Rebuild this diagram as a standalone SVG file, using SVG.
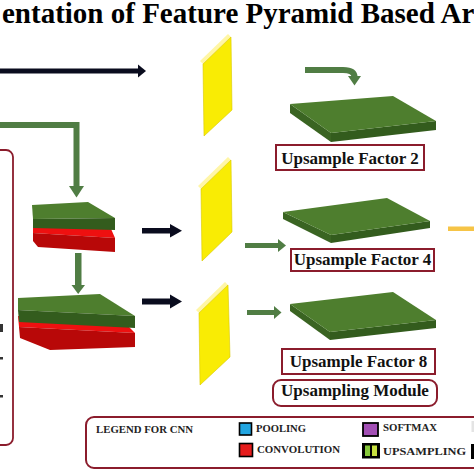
<svg xmlns="http://www.w3.org/2000/svg" width="474" height="474" viewBox="0 0 474 474">
<style>
  .title{font-family:"Liberation Serif","Times New Roman",serif;font-weight:bold;font-size:29px;fill:#000}
  .lbl{font-family:"Liberation Serif","Times New Roman",serif;font-weight:bold;font-size:17px;fill:#111}
  .lg{font-family:"Liberation Serif","Times New Roman",serif;font-weight:bold;font-size:11px;fill:#222}
  .box{fill:#fff;stroke:#8b1c2c;stroke-width:2}
  .frame{fill:none;stroke:#8b1c2c;stroke-width:1.8}
  .ytop{fill:#fff6a6}
  .yfront{fill:#f9ec04;stroke:#d8c800;stroke-width:0.6}
  .gtop{fill:#4e7e2e}
  .gside{fill:#3a6422}
  .gfront{fill:#335c1d}
  .rtop{fill:#ee1010}
  .rfront{fill:#b80808}
  .blk{fill:#0a0c1e}
  .grn{fill:#507d44}
  .grs{fill:none;stroke:#507d44;stroke-width:6}
</style>

<text class="title" x="2" y="23">entation of Feature Pyramid Based Ar</text>

<g id="left-frame">
  <rect class="frame" x="-12" y="150" width="25" height="295" rx="7"/>
  <rect x="0" y="324" width="3" height="8" fill="#333"/>
  <rect x="0" y="357" width="3" height="2.5" fill="#333"/>
  <rect x="0" y="395" width="3" height="2.5" fill="#333"/>
</g>

<g id="cnn-block-1">
  <polygon class="rtop" points="33,221 108,222 115,238 33,233"/>
  <polygon class="rfront" points="33,233 115,238 115,252 38,247 33,241"/>
  <polygon class="gtop" points="32,205 88,202 115,218 33,219"/>
  <polygon class="gfront" points="33,219 115,218 115,230 33,228"/>
</g>

<g id="cnn-block-2">
  <polygon class="rtop" points="18,316 120,318 135,333 19,327"/>
  <polygon class="rfront" points="19,327 135,333 135,347 50,350 20,338"/>
  <polygon class="gtop" points="18,298 100,294 135,316 18,310"/>
  <polygon class="gfront" points="18,310 135,316 135,328 19,322"/>
</g>

<g id="feature-1">
  <polygon class="ytop" points="200,61 228,34 231,37 203,64"/>
  <polygon class="yfront" points="203,64 231,37 232,110 204,136"/>
</g>
<g id="feature-2">
  <polygon class="ytop" points="198,186 228,157 231,160 201,189"/>
  <polygon class="yfront" points="201,189 231,160 232,232 202,261"/>
</g>
<g id="feature-3">
  <polygon class="ytop" points="196,310 225,282 228,285 199,313"/>
  <polygon class="yfront" points="199,313 228,285 230,357 200,385"/>
</g>

<g id="upsample-2">
  <polygon class="gside" points="290,104 331,133 331,142 290,113"/>
  <polygon class="gfront" points="331,133 436,121 436,130 331,142"/>
  <polygon class="gtop" points="290,104 393,96 436,121 331,133"/>
  <rect class="box" x="276" y="145" width="148" height="25"/>
  <text class="lbl" x="350" y="164" text-anchor="middle">Upsample Factor 2</text>
</g>

<g id="upsample-4">
  <polygon class="gside" points="283,212 331,235 331,243 283,219"/>
  <polygon class="gfront" points="331,235 430,221 430,228 331,243"/>
  <polygon class="gtop" points="283,212 387,198 430,221 331,235"/>
  <rect class="box" x="291" y="249" width="143" height="22"/>
  <text class="lbl" x="362.5" y="265" text-anchor="middle">Upsample Factor 4</text>
</g>

<g id="upsample-8">
  <polygon class="gside" points="290,304 330,332 330,340 290,311"/>
  <polygon class="gfront" points="330,332 436,320 436,328 330,340"/>
  <polygon class="gtop" points="290,304 393,292 436,320 330,332"/>
  <rect class="box" x="282" y="349" width="153" height="25"/>
  <text class="lbl" x="358.5" y="367" text-anchor="middle">Upsample Factor 8</text>
</g>

<g id="upsampling-module">
  <rect class="box" x="273" y="380" width="164" height="26" rx="8"/>
  <text class="lbl" x="355" y="396" text-anchor="middle">Upsampling Module</text>
</g>

<g id="output-line">
  <rect x="448" y="226.5" width="26" height="4.5" fill="#f6c446"/>
</g>

<g id="connectors">
  <rect class="blk" x="0" y="68.5" width="139" height="5"/>
  <polygon class="blk" points="138,64.5 146,71 138,77.5"/>
  <rect class="blk" x="142" y="228" width="29" height="5.5"/>
  <polygon class="blk" points="170,224 182,230.8 170,237.5"/>
  <rect class="blk" x="142" y="298.5" width="29" height="6"/>
  <polygon class="blk" points="170,294.5 182,301.5 170,308.5"/>

  <path class="grs" d="M0,125 H76.5 V187"/>
  <polygon class="grn" points="69,186 84,186 76.5,197.5"/>
  <rect class="grn" x="75" y="253" width="6.5" height="33"/>
  <polygon class="grn" points="71.5,285 85,285 78.2,294"/>

  <path class="grs" d="M305,70 H343 Q354.5,70 354.5,77"/>
  <polygon class="grn" points="348,76 361,76 354.5,85.5"/>
  <rect class="grn" x="245" y="243" width="34" height="5"/>
  <polygon class="grn" points="278,239 286,245.5 278,252"/>
  <rect class="grn" x="247" y="310" width="28" height="5"/>
  <polygon class="grn" points="274,306 281.5,312.5 274,319"/>
</g>

<g id="legend">
  <rect class="box" x="86" y="417" width="420" height="51" rx="8"/>
  <text class="lg" x="96" y="433" textLength="97" lengthAdjust="spacingAndGlyphs">LEGEND FOR CNN</text>
  <rect x="239.5" y="423" width="12" height="12" fill="#22a6e2" stroke="#000" stroke-width="1.6"/>
  <text class="lg" x="256" y="432" textLength="50" lengthAdjust="spacingAndGlyphs">POOLING</text>
  <rect x="239.5" y="443.5" width="13" height="13" fill="#e61c1c" stroke="#000" stroke-width="1.6"/>
  <text class="lg" x="257" y="453" textLength="83" lengthAdjust="spacingAndGlyphs">CONVOLUTION</text>
  <rect x="363" y="423" width="15" height="13" fill="#a24fb4" stroke="#000" stroke-width="1.8"/>
  <text class="lg" x="383" y="430.5" textLength="54" lengthAdjust="spacingAndGlyphs">SOFTMAX</text>
  <rect x="362" y="443" width="18" height="15.5" fill="#000"/>
  <rect x="365" y="445.5" width="5" height="10.5" fill="#86c83a"/>
  <rect x="372" y="445.5" width="5" height="10.5" fill="#c8e040"/>
  <text class="lg" x="383" y="455" textLength="83" lengthAdjust="spacingAndGlyphs">UPSAMPLING</text>
  <rect x="471.5" y="421" width="4" height="11" fill="#e4e4e4"/>
  <rect x="471" y="444" width="5" height="15" fill="#000"/>
</g>
</svg>
